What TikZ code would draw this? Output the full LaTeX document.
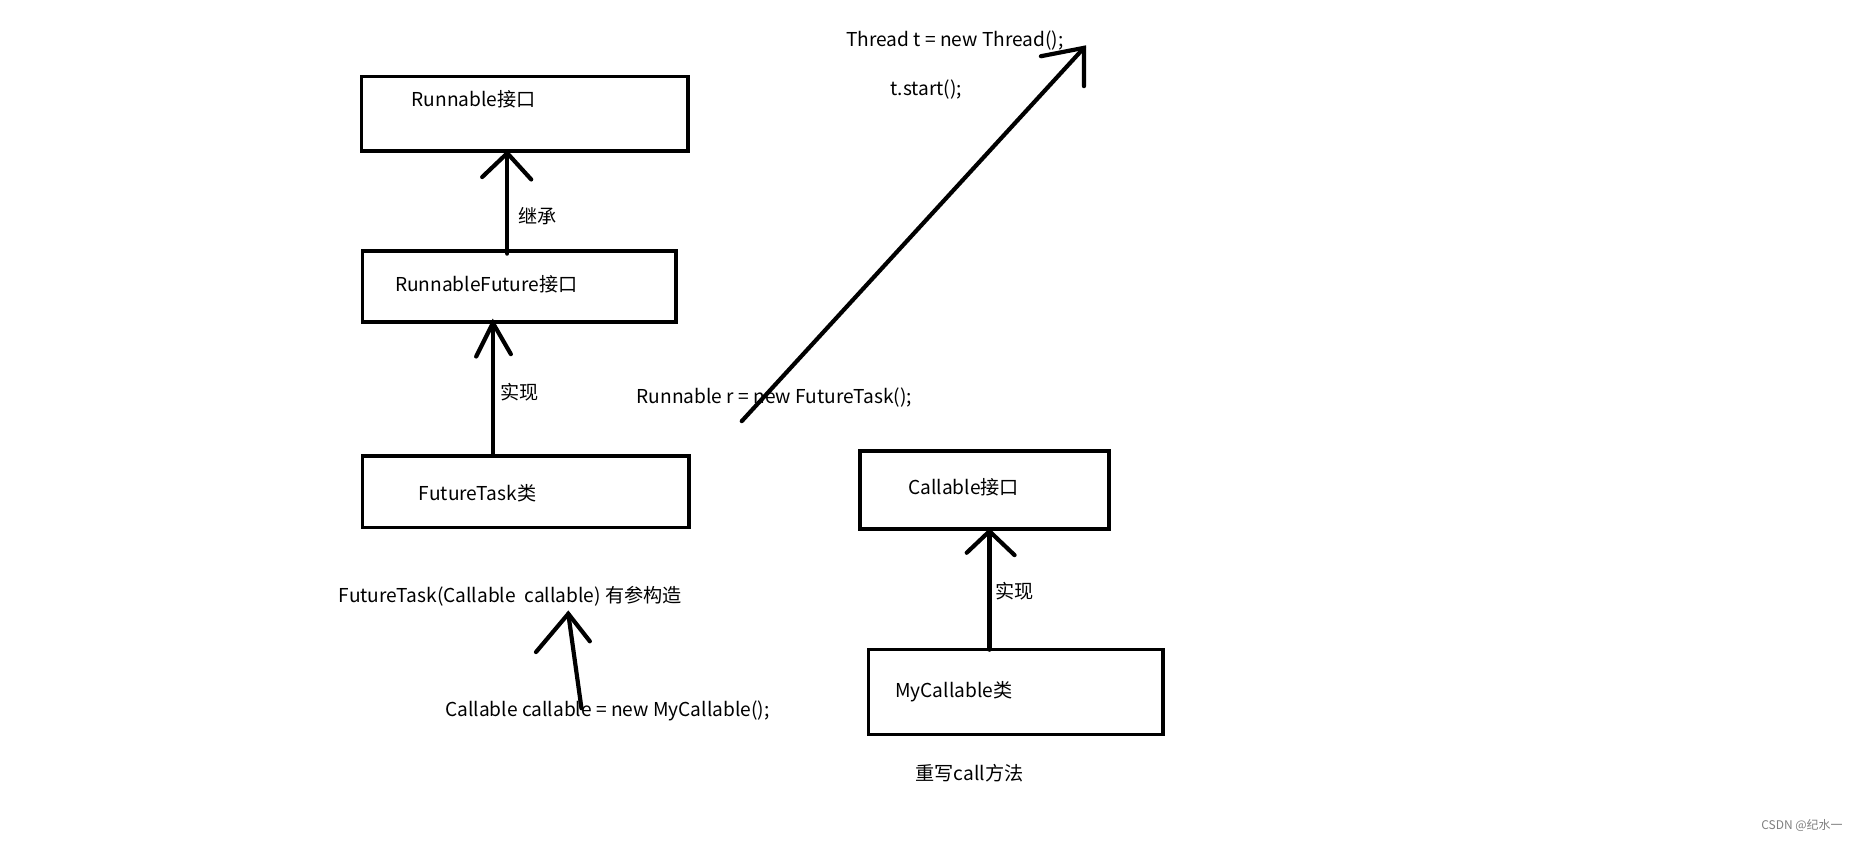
\documentclass[tikz,border=0pt]{standalone}
\usepackage{fontspec}
\setmainfont{Noto Sans CJK SC}
\begin{document}
\begin{tikzpicture}[x=1pt,y=-1pt,
  box/.style={draw,line width=3pt},
  ar/.style={line width=3.5pt,line cap=round},
  t/.style={font=\fontsize{16}{18}\selectfont,inner sep=0pt,anchor=west}]
\useasboundingbox[fill=white] (0,0) rectangle (1568,703);
\draw[box] (302,64) rectangle (575,126);
\node[t] (rl) at (344,83) {Runnable接口};
\draw[box] (303,210) rectangle (565,269);
\node[t] (rfl) at (330,238) {RunnableFuture接口};
\draw[box] (303,381) rectangle (576,441);
\node[t] (ftl) at (350,412) {FutureTask类};
\draw[box] (719,377) rectangle (927,442);
\node[t] (cl) at (759,407) {Callable接口};
\draw[box] (726,543) rectangle (972,614);
\node[t] (mcl) at (748,578) {MyCallable类};
\coordinate (a1s) at (424,212); \coordinate (a1e) at (424,128);
\draw[ar] (a1s) -- (a1e); \draw[ar] (403,148) -- (a1e) -- (444,150);
\node[t] at (433,181) {继承};
\coordinate (a2s) at (412,381); \coordinate (a2e) at (412,270);
\draw[ar] (a2s) -- (a2e); \draw[ar] (398,298) -- (a2e) -- (427,296);
\node[t] at (418,328) {实现};
\coordinate (a3s) at (827,543); \coordinate (a3e) at (827,444);
\draw[ar] (a3s) -- (a3e); \draw[ar] (808,462) -- (a3e) -- (848,464);
\node[t] at (832,494) {实现};
\coordinate (a4s) at (620,352); \coordinate (a4e) at (906,40);
\draw[ar] (a4s) -- (a4e); \draw[ar] (870,47) -- (a4e) -- (906,72);
\coordinate (a5s) at (486,592); \coordinate (a5e) at (475,513);
\draw[ar] (a5s) -- (a5e); \draw[ar] (448,545) -- (a5e) -- (493,536);
\node[t] at (707,34) {Thread t = new Thread();};
\node[t] at (744,75) {t.start();};
\node[t] at (532,332) {Runnable r = new FutureTask();};
\node[t] at (283,498) {FutureTask(Callable\ \ callable) 有参构造};
\node[t] at (372,594) {Callable callable = new MyCallable();};
\node[t] at (765,646) {重写call方法};
\node[t,font=\fontsize{10}{12}\selectfont,text=gray] at (1472,690) {CSDN @纪水一};
\end{tikzpicture}
\end{document}
